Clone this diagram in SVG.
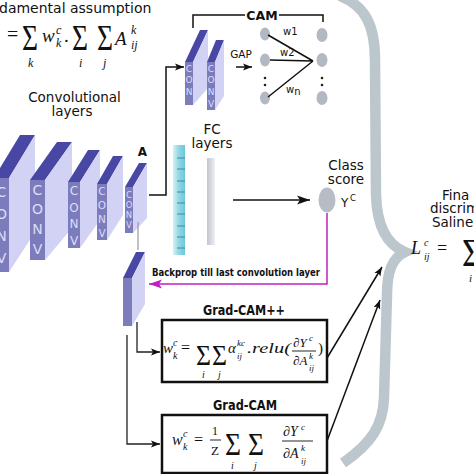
<svg xmlns="http://www.w3.org/2000/svg" width="474" height="474" viewBox="0 0 474 474">
<defs>
<style>
.t{font-family:"DejaVu Sans","Liberation Sans",sans-serif;fill:#111}
.b{font-family:"DejaVu Sans","Liberation Sans",sans-serif;font-weight:bold;fill:#111}
.m{font-family:"Liberation Serif","DejaVu Serif",serif;font-style:italic;fill:#111}
.r{font-family:"Liberation Serif","DejaVu Serif",serif;fill:#111}
.front{fill:#7c7cbc}
.top{fill:#4848a4}
.side{fill:#d2d2f5}
.cv{font-family:"DejaVu Sans","Liberation Sans",sans-serif;fill:#dcdcf5;text-anchor:middle}
.ln{stroke:#111;stroke-width:1.5;fill:none}
.node{fill:#b3b9c3}
.box{fill:#fff;stroke:#111;stroke-width:2.5}
.dot{fill:#222}
</style>
<marker id="ahL" markerUnits="userSpaceOnUse" markerWidth="14" markerHeight="10" refX="13" refY="5" orient="auto"><path d="M0,0.5 L13,5 L0,9.5 L3,5 Z" fill="#111"/></marker>
<marker id="ahS" markerUnits="userSpaceOnUse" markerWidth="10" markerHeight="8" refX="9" refY="4" orient="auto"><path d="M0,0.5 L9,4 L0,7.5 L2,4 Z" fill="#111"/></marker>
<marker id="ahM" markerUnits="userSpaceOnUse" markerWidth="14" markerHeight="10" refX="13" refY="5" orient="auto"><path d="M0,0.5 L13,5 L0,9.5 L3,5 Z" fill="#c020c0"/></marker>
<linearGradient id="cy" x1="0" y1="0" x2="1" y2="0"><stop offset="0" stop-color="#d4f1f6"/><stop offset="0.5" stop-color="#8fd6e4"/><stop offset="1" stop-color="#6ec6d8"/></linearGradient>
<linearGradient id="gr" x1="0" y1="0" x2="1" y2="0"><stop offset="0" stop-color="#c3c5cd"/><stop offset="1" stop-color="#eeeff3"/></linearGradient>
</defs>

<!-- brace -->
<path id="brace" d="M340,-4 C365,6 375,25 375,60 L376,195 C377,230 390,246 405,252 C392,258 387,272 387,295 L384,398 C383,425 372,443 343,463" fill="none" stroke="#bcc7cd" stroke-width="10.5" stroke-linejoin="miter" stroke-miterlimit="10"/>

<!-- top-left assumption -->
<g id="assumption">
<text class="t" x="-1" y="13" font-size="14">damental assumption</text>
<text class="r" x="7" y="41" font-size="20">=</text>
<text class="r" x="22" y="50" font-size="36" textLength="16" lengthAdjust="spacingAndGlyphs">Σ</text>
<text class="m" x="28" y="67" font-size="12">k</text>
<text class="m" x="42" y="42" font-size="19">w</text>
<text class="m" x="56" y="34" font-size="12">c</text>
<text class="m" x="56" y="47" font-size="12">k</text>
<text class="r" x="64" y="42" font-size="19">.</text>
<text class="r" x="72" y="50" font-size="36" textLength="16" lengthAdjust="spacingAndGlyphs">Σ</text>
<text class="r" x="97" y="50" font-size="36" textLength="16" lengthAdjust="spacingAndGlyphs">Σ</text>
<text class="m" x="79" y="67" font-size="12">i</text>
<text class="m" x="103" y="67" font-size="12">j</text>
<text class="m" x="115" y="45" font-size="19">A</text>
<text class="m" x="131" y="34" font-size="12">k</text>
<text class="m" x="131" y="49" font-size="12">ij</text>
</g>

<g id="conv-label">
<text class="t" x="74.5" y="102" font-size="13.5" text-anchor="middle">Convolutional</text>
<text class="t" x="72" y="116" font-size="13.5" text-anchor="middle">layers</text>
</g>

<!-- conv blocks -->
<g id="conv1">
<polygon class="top" points="-6,178 20,135 35,135 9,178"/>
<polygon class="side" points="9,178 35,135 35,232 9,272"/>
<rect class="front" x="-6" y="178" width="15" height="94"/>
<text class="cv" font-size="14"><tspan x="1.5" y="197">C</tspan><tspan x="1.5" y="219">O</tspan><tspan x="1.5" y="241">N</tspan><tspan x="1.5" y="263">V</tspan></text>
</g>
<g id="conv2">
<polygon class="top" points="30,180 57,142 72,142 45,180"/>
<polygon class="side" points="45,180 72,142 72,228 45,260"/>
<rect class="front" x="30" y="180" width="15" height="80"/>
<text class="cv" font-size="14"><tspan x="37.5" y="195">C</tspan><tspan x="37.5" y="214">O</tspan><tspan x="37.5" y="234">N</tspan><tspan x="37.5" y="254">V</tspan></text>
</g>
<g id="conv3">
<polygon class="top" points="68,182 88,150 100,150 80,182"/>
<polygon class="side" points="80,182 100,150 100,220 80,248"/>
<rect class="front" x="68" y="182" width="12" height="66"/>
<text class="cv" font-size="12"><tspan x="74" y="195">C</tspan><tspan x="74" y="212">O</tspan><tspan x="74" y="228">N</tspan><tspan x="74" y="245">V</tspan></text>
</g>
<g id="conv4">
<polygon class="top" points="97,184 113,156 123,156 107,184"/>
<polygon class="side" points="107,184 123,156 123,215 107,240"/>
<rect class="front" x="97" y="184" width="10" height="56"/>
<text class="cv" font-size="10.5"><tspan x="102" y="195">C</tspan><tspan x="102" y="209">O</tspan><tspan x="102" y="223">N</tspan><tspan x="102" y="237">V</tspan></text>
</g>
<g id="convA">
<polygon class="top" points="125,187 139,163 147,163 133,187"/>
<polygon class="side" points="133,187 147,163 147,218 133,233"/>
<rect class="front" x="125" y="187" width="8" height="46"/>
<text class="cv" font-size="8.5"><tspan x="129" y="198">C</tspan><tspan x="129" y="208">O</tspan><tspan x="129" y="218">N</tspan><tspan x="129" y="228">V</tspan></text>
<text class="b" x="142.5" y="156" font-size="12" text-anchor="middle">A</text>
</g>

<g id="cam-conv1">
<polygon class="top" points="185,62 200,30 208,30 193,62"/>
<polygon class="side" points="193,62 208,30 208,88 193,105"/>
<rect class="front" x="185" y="62" width="8" height="43"/>
<text class="cv" font-size="9"><tspan x="189" y="72">C</tspan><tspan x="189" y="83">O</tspan><tspan x="189" y="95">N</tspan></text>
</g>
<g id="cam-conv2">
<polygon class="top" points="207,62 216,40 224,40 215,62"/>
<polygon class="side" points="215,62 224,40 224,96 215,110"/>
<rect class="front" x="207" y="62" width="8" height="48"/>
<text class="cv" font-size="9"><tspan x="211" y="72">C</tspan><tspan x="211" y="83">O</tspan><tspan x="211" y="95">N</tspan><tspan x="211" y="107">V</tspan></text>
</g>

<g id="backprop-layer">
<polygon class="top" points="123,278 136,252 145,252 132,278"/>
<polygon class="side" points="132,278 145,252 145,304 132,326"/>
<rect class="front" x="123" y="278" width="9" height="48"/>
</g>

<!-- CAM -->
<g id="cam">
<path class="ln" d="M193,28 V15 H245 M279,15 H323 V22" stroke-width="2"/>
<text class="b" x="262" y="20" font-size="12.5" text-anchor="middle">CAM</text>
<text class="t" x="241" y="58" font-size="10.5" text-anchor="middle">GAP</text>
</g>
<g id="gap-nodes">
<ellipse class="node" cx="265" cy="34" rx="5" ry="6.5"/>
<ellipse class="node" cx="265" cy="60" rx="5" ry="6.5"/>
<ellipse class="node" cx="265" cy="98" rx="5" ry="6.5"/>
<circle class="dot" cx="265" cy="78" r="1.3"/><circle class="dot" cx="265" cy="85" r="1.3"/>
<ellipse class="node" cx="322" cy="35" rx="5.5" ry="7"/>
<ellipse class="node" cx="322" cy="60" rx="5.5" ry="7"/>
<ellipse class="node" cx="322" cy="98" rx="5.5" ry="7"/>
<circle class="dot" cx="322" cy="78" r="1.3"/><circle class="dot" cx="322" cy="85" r="1.3"/>
<text class="t" x="283" y="35" font-size="10">w1</text>
<text class="t" x="280" y="56" font-size="10">w2</text>
<text class="t" x="286" y="93" font-size="10">w<tspan dy="2">n</tspan></text>
</g>

<!-- FC -->
<g id="fc">
<text class="t" x="212" y="134" font-size="13.5" text-anchor="middle">FC</text>
<text class="t" x="212" y="148" font-size="13.5" text-anchor="middle">layers</text>
<rect x="173" y="145" width="12" height="110" fill="url(#cy)"/>
<path d="M177,158 H185 M177,169 H185 M177,181 H185 M177,192 H185 M177,203 H185 M177,214 H185 M177,226 H185 M177,237 H185 M177,248 H185" stroke="#3c8e9c" stroke-width="1"/>
<rect x="207" y="158" width="8" height="87" fill="url(#gr)"/>
</g>

<g id="class-score">
<text class="t" x="346" y="170" font-size="13.5" text-anchor="middle">Class</text>
<text class="t" x="346" y="184" font-size="13.5" text-anchor="middle">score</text>
<ellipse cx="327" cy="200" rx="8.5" ry="12.5" fill="#b8bcc5"/>
<text class="t" x="341" y="207" font-size="12">Y</text>
<text class="t" x="350" y="201" font-size="8.5">C</text>
</g>

<!-- boxes -->
<g id="gradcampp">
<text class="b" x="244" y="315" font-size="13.5" text-anchor="middle" textLength="82" lengthAdjust="spacingAndGlyphs">Grad-CAM++</text>
<rect class="box" x="162" y="320" width="165" height="62"/>
<text class="m" x="163" y="353" font-size="15">w</text>
<text class="m" x="173" y="346" font-size="10">c</text>
<text class="m" x="173" y="359" font-size="10">k</text>
<text class="r" x="181" y="353" font-size="16">=</text>
<text class="r" x="196" y="365" font-size="30" textLength="15" lengthAdjust="spacingAndGlyphs">Σ</text>
<text class="r" x="212" y="365" font-size="30" textLength="15" lengthAdjust="spacingAndGlyphs">Σ</text>
<text class="m" x="202" y="378" font-size="10">i</text>
<text class="m" x="218" y="378" font-size="10">j</text>
<text class="m" x="228" y="353" font-size="15">α</text>
<text class="m" x="237" y="346" font-size="9">kc</text>
<text class="m" x="237" y="359" font-size="9">ij</text>
<text class="m" x="247" y="353" font-size="15" textLength="44" lengthAdjust="spacingAndGlyphs">.relu(</text>
<text class="m" x="293" y="347" font-size="13">∂Y</text>
<text class="m" x="309" y="341" font-size="9">c</text>
<line x1="292" y1="351" x2="316" y2="351" stroke="#111" stroke-width="0.9"/>
<text class="m" x="293" y="365" font-size="13">∂A</text>
<text class="m" x="309" y="359" font-size="9">k</text>
<text class="m" x="309" y="371" font-size="9">ij</text>
<text class="r" x="318" y="353" font-size="15">)</text>
</g>

<g id="gradcam">
<text class="b" x="245" y="410" font-size="13.5" text-anchor="middle" textLength="64" lengthAdjust="spacingAndGlyphs">Grad-CAM</text>
<rect class="box" x="162" y="415" width="165" height="58"/>
<text class="m" x="172" y="445" font-size="16">w</text>
<text class="m" x="183" y="437" font-size="10">c</text>
<text class="m" x="183" y="450" font-size="10">k</text>
<text class="r" x="194" y="445" font-size="16">=</text>
<text class="r" x="215" y="435" font-size="12" text-anchor="middle">1</text>
<line x1="210" y1="440" x2="221" y2="440" stroke="#111" stroke-width="0.9"/>
<text class="r" x="215" y="455" font-size="13" text-anchor="middle">Z</text>
<text class="r" x="225" y="455" font-size="32" textLength="16" lengthAdjust="spacingAndGlyphs">Σ</text>
<text class="r" x="248" y="455" font-size="32" textLength="16" lengthAdjust="spacingAndGlyphs">Σ</text>
<text class="m" x="231" y="469" font-size="10">i</text>
<text class="m" x="254" y="469" font-size="10">j</text>
<text class="m" x="283" y="436" font-size="14">∂Y</text>
<text class="m" x="301" y="430" font-size="9">c</text>
<line x1="282" y1="441" x2="313" y2="441" stroke="#111" stroke-width="0.9"/>
<text class="m" x="283" y="458" font-size="14">∂A</text>
<text class="m" x="301" y="451" font-size="9">k</text>
<text class="m" x="301" y="464" font-size="9">ij</text>
</g>

<g id="final">
<text class="t" x="442" y="200" font-size="13.5">Fina</text>
<text class="t" x="430" y="213" font-size="13.5">discrim</text>
<text class="t" x="432" y="227" font-size="13.5">Saline</text>
<text class="m" x="411" y="254" font-size="18">L</text>
<text class="m" x="424" y="246" font-size="10">c</text>
<text class="m" x="424" y="260" font-size="10">ij</text>
<text class="r" x="437" y="254" font-size="18">=</text>
<text class="r" x="462" y="266" font-size="40" textLength="20" lengthAdjust="spacingAndGlyphs">Σ</text>
<text class="m" x="469" y="282" font-size="11">i</text>
</g>

<!-- connectors -->
<g id="connectors">
<path class="ln" d="M149,195 H166 V67 H184" marker-end="url(#ahS)"/>
<line class="ln" x1="236" y1="67" x2="252" y2="67" marker-end="url(#ahS)"/>
<path class="ln" d="M268,35 L313,61 M270,60 L313,61 M268,97 L313,61" stroke-width="1.3"/>
<line class="ln" x1="233" y1="200" x2="310" y2="200" stroke-width="1.8" marker-end="url(#ahL)"/>
<path d="M327,213 V284 H149" fill="none" stroke="#c020c0" stroke-width="1.5" marker-end="url(#ahM)"/>
<text class="b" x="152" y="276" font-size="10.5" textLength="168" lengthAdjust="spacingAndGlyphs">Backprop till last convolution layer</text>
<line x1="138" y1="222" x2="138" y2="250" stroke="#a0a0a0" stroke-width="1.3"/>
<path d="M137,322 V352 H160" fill="none" stroke="#222" stroke-width="1.3" marker-end="url(#ahS)"/>
<path d="M127,335 V444 H160" fill="none" stroke="#222" stroke-width="1.3" marker-end="url(#ahS)"/>
<line class="ln" x1="327" y1="358" x2="382" y2="267" stroke-width="1.3" marker-end="url(#ahS)"/>
<line class="ln" x1="327" y1="441" x2="380" y2="300" stroke-width="1.3" marker-end="url(#ahS)"/>
</g>
</svg>
